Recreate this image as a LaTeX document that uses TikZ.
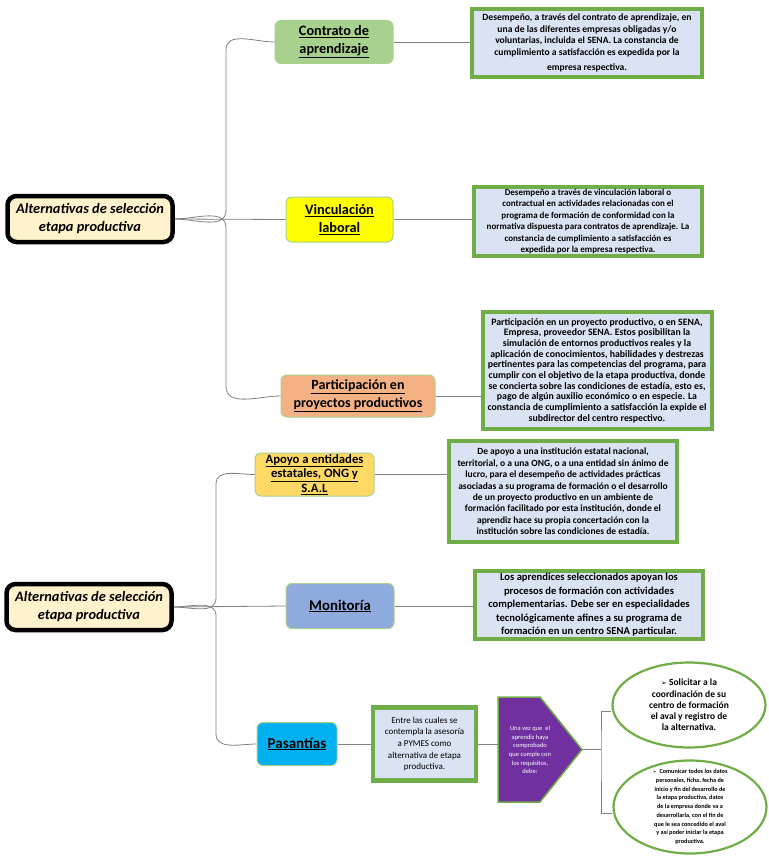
\documentclass[tikz,border=0pt]{standalone}
\usepackage{fontspec}
\setmainfont{Carlito}
\newfontfamily\dejavu{DejaVu Sans}
\usepackage{tikz}
\usetikzlibrary{shapes,backgrounds}

\definecolor{rootfill}{HTML}{FFF2CC}
\definecolor{descfill}{HTML}{DAE3F3}
\definecolor{descline}{HTML}{70AD47}
\definecolor{catline}{HTML}{A9D18E}
\definecolor{contratofill}{HTML}{A9D18E}
\definecolor{vincfill}{HTML}{FFFF00}
\definecolor{partfill}{HTML}{F4B183}
\definecolor{apoyofill}{HTML}{FFD966}
\definecolor{monitfill}{HTML}{8FAADC}
\definecolor{pasfill}{HTML}{00B0F0}
\definecolor{purplefill}{HTML}{7030A0}
\definecolor{branchline}{HTML}{808080}

\begin{document}
\begin{tikzpicture}[x=1pt,y=1pt,
        root/.style={draw=black, line width=4.5pt, rounded corners=9pt, fill=rootfill,
            minimum width=165, minimum height=46, align=center, inner sep=0pt,
            font=\fontsize{14.4}{18}\selectfont\bfseries\itshape},
        cat/.style={draw=catline, line width=1pt, rounded corners=6pt, align=center,
            inner sep=0pt, font=\fontsize{14.3}{18}\selectfont\bfseries},
        desc/.style={draw=descline, line width=4pt, fill=descfill, align=center,
            inner sep=0pt, font=\fontsize{9.6}{11.5}\selectfont\bfseries},
        bubble/.style={ellipse, draw=descline, line width=2.2pt, fill=white, inner sep=0pt},
        branch/.style={draw=branchline, line width=0.8pt}
        ]
        \useasboundingbox (0,0) rectangle (768,-864);

        % First map
        \node[root] (rootA) at (90,-219) {Alternativas de selección\\etapa productiva};
        \node[cat, fill=contratofill, minimum width=118, minimum height=43] (contrato) at (334,-42)
            {\underline{Contrato de}\\\underline{aprendizaje}};
        \node[cat, fill=vincfill, minimum width=107, minimum height=45] (vinc) at (339.5,-219.5)
            {\underline{Vinculación}\\\underline{laboral}};
        \node[cat, fill=partfill, minimum width=154, minimum height=42,
            font=\fontsize{14}{18}\selectfont\bfseries] (part) at (358,-396)
            {\underline{Participación en}\\\underline{proyectos productivos}};

        \node[desc, minimum width=230, minimum height=68] (descA) at (587,-43)
            {Desempeño, a través del contrato de aprendizaje, en\\
            una de las diferentes empresas obligadas y/o\\
            voluntarias, incluida el SENA. La constancia de\\
            cumplimiento a satisfacción es expedida por la\\[4pt]
            empresa respectiva.};
        \node[desc, minimum width=228, minimum height=69, font=\fontsize{9}{11.4}\selectfont\bfseries]
            (descB) at (588,-221.5)
            {Desempeño a través de vinculación laboral o\\
            contractual en actividades relacionadas con el\\
            programa de formación de conformidad con la\\
            normativa dispuesta para contratos de aprendizaje. La\\
            constancia de cumplimiento a satisfacción es\\
            expedida por la empresa respectiva.};
        \node[desc, minimum width=229, minimum height=117, font=\fontsize{9.8}{10.7}\selectfont\bfseries]
            (descC) at (597,-370.5)
            {Participación en un proyecto productivo, o en SENA,\\
            Empresa, proveedor SENA. Estos posibilitan la\\
            simulación de entornos productivos reales y la\\
            aplicación de conocimientos, habilidades y destrezas\\
            pertinentes para las competencias del programa, para\\
            cumplir con el objetivo de la etapa productiva, donde\\
            se concierta sobre las condiciones de estadía, esto es,\\
            pago de algún auxilio económico o en especie. La\\
            constancia de cumplimiento a satisfacción la expide el\\
            subdirector del centro respectivo.};

        % Connect the first root
        \draw[branch] (rootA.east) to[out=0,in=-90] (226,-210) -- (226,-50)
            to[out=90,in=180] (contrato.west)
        ;
        \draw[branch] (rootA.east) -- (vinc.west)
        ;
        \draw[branch] (rootA.east) to[out=0,in=90] (226,-228) -- (226,-386)
            to[out=-90,in=180] (part.west)
        ;
        \draw[branch] (contrato.east) -- (contrato.east -| descA.west)
        ;
        \draw[branch] (vinc.east) -- (vinc.east -| descB.west)
        ;
        \draw[branch] (part.east) -- (part.east -| descC.west)
        ;

        % Second map
        \node[root] (rootB) at (89,-607) {Alternativas de selección\\etapa productiva};
        \node[cat, fill=apoyofill, minimum width=119, minimum height=43,
            font=\fontsize{12.7}{14.8}\selectfont\bfseries] (apoyo) at (314.5,-474.5)
            {\underline{Apoyo a entidades}\\\underline{estatales, ONG y}\\\underline{S.A.L}};
        \node[cat, fill=monitfill, minimum width=108, minimum height=45,
            font=\fontsize{14.8}{18}\selectfont\bfseries] (monit) at (340,-606)
            {\underline{Monitoría}};
        \node[cat, fill=pasfill, minimum width=80, minimum height=43,
            font=\fontsize{15}{18}\selectfont\bfseries] (pas) at (297,-744)
            {\underline{Pasantías}};

        \node[desc, minimum width=228, minimum height=101, font=\fontsize{9.5}{11.4}\selectfont\bfseries]
            (descD) at (563,-491.5)
            {De apoyo a una institución estatal nacional,\\
            territorial, o a una ONG, o a una entidad sin ánimo de\\
            lucro, para el desempeño de actividades prácticas\\
            asociadas a su programa de formación o el desarrollo\\
            de un proyecto productivo en un ambiente de\\
            formación facilitado por esta institución, donde el\\
            aprendiz hace su propia concertación con la\\
            institución sobre las condiciones de estadía.};
        \node[desc, minimum width=228, minimum height=68, font=\fontsize{10.6}{13.5}\selectfont\bfseries]
            (descE) at (589,-605)
            {Los aprendices seleccionados apoyan los\\
            procesos de formación con actividades\\
            complementarias. Debe ser en especialidades\\
            tecnológicamente afines a su programa de\\
            formación en un centro SENA particular.};
        \node[desc, line width=4.5pt, minimum width=103, minimum height=73,
            font=\fontsize{9}{11.7}\selectfont] (pasDesc) at (424.5,-744)
            {Entre las cuales se\\contempla la asesoría\\a PYMES como\\alternativa de etapa\\productiva.};

        % Purple pointer
        \filldraw[fill=purplefill, draw=descline, line width=1.5pt]
            (498,-697) -- (540,-697) -- (582,-749.5) -- (540,-802) -- (498,-802) -- cycle;
        \coordinate (puW) at (498,-746);
        \coordinate (puTip) at (582,-749.5);
        \node[text=white, align=center, font=\fontsize{6.5}{8.7}\selectfont] (puText) at (530,-750)
            {Una vez que \ el\\aprendiz haya\\comprobado\\que cumple con\\los requisitos,\\debe:};

        \node[bubble, minimum width=153, minimum height=85] (ellA) at (689,-705) {};
        \node[align=center, font=\fontsize{9.5}{11.3}\selectfont\bfseries] (ellAtext) at (ellA.center)
            {{\dejavu\fontsize{7}{7}\selectfont ➢} Solicitar a la\\coordinación de su\\centro de formación\\
            el aval y registro de\\la alternativa.};
        \node[bubble, minimum width=153, minimum height=93] (ellB) at (690,-807) {};
        \node[align=center, font=\fontsize{6.2}{8.75}\selectfont\bfseries] (ellBtext) at (ellB.center)
            {{\dejavu\fontsize{5}{5}\selectfont ➢} \ Comunicar todos los datos\\
            personales, ficha, fecha de\\inicio y fin del desarrollo de\\la etapa productiva, datos\\
            de la empresa donde va a\\desarrollarla, con el fin de\\que le sea concedido el aval\\
            y así poder iniciar la etapa\\productiva.};

        % Connect the second root
        \draw[branch] (rootB.east) to[out=0,in=-90] (216,-598) -- (216,-484)
            to[out=90,in=180] (apoyo.west)
        ;
        \draw[branch] (rootB.east) -- (monit.west)
        ;
        \draw[branch] (rootB.east) to[out=0,in=90] (216,-616) -- (216,-734)
            to[out=-90,in=180] (pas.west)
        ;
        \draw[branch] (apoyo.east) -- (apoyo.east -| descD.west)
        ;
        \draw[branch] (monit.east) -- (monit.east -| descE.west)
        ;
        \draw[branch] (pas.east) -- (pasDesc.west)
        ;
        \draw[branch] (pasDesc.east) -- (pasDesc.east -| puW)
        ;
        %% Bracket to the two requirements
        \draw[branch] (puTip) -- ++(19,0) coordinate (brk)
        ;
        \draw[branch] ([yshift=-6pt]ellA.west) -| (brk) |- ([yshift=-6pt]ellB.west)
        ;
    \end{tikzpicture}
\end{document}
